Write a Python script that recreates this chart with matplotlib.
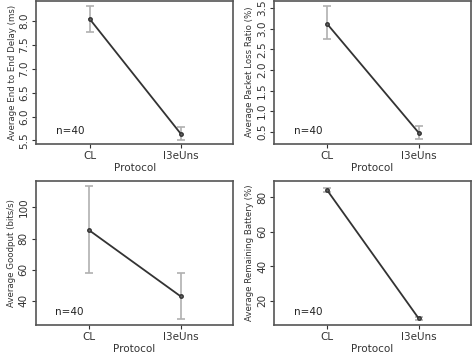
import matplotlib
matplotlib.use("Agg")
import matplotlib.pyplot as plt

protocols = ["CL", "I3eUns"]

delay_mean = [8.05, 5.63]
delay_lo = [7.78, 5.50]
delay_hi = [8.32, 5.77]

loss_mean = [3.12, 0.48]
loss_lo = [2.75, 0.33]
loss_hi = [3.55, 0.65]

goodput_mean = [85.5, 42.8]
goodput_lo = [57.6, 28.3]
goodput_hi = [113.5, 57.6]

battery_mean = [84.3, 9.9]
battery_lo = [83.3, 9.0]
battery_hi = [85.3, 10.8]

panels = [
    ("Average End to End Delay (ms)", delay_mean, delay_lo, delay_hi,
     (5.43, 8.43), [5.5, 6.0, 6.5, 7.0, 7.5, 8.0], "%.1f",
     [0.077, 0.593, 0.415, 0.405]),
    ("Average Packet Loss Ratio (%)", loss_mean, loss_lo, loss_hi,
     (0.21, 3.68), [0.5, 1.0, 1.5, 2.0, 2.5, 3.0, 3.5], "%.1f",
     [0.578, 0.593, 0.415, 0.405]),
    ("Average Goodput (bits/s)", goodput_mean, goodput_lo, goodput_hi,
     (24.6, 117.2), [40, 60, 80, 100], "%d",
     [0.075, 0.08, 0.417, 0.408]),
    ("Average Remaining Battery (%)", battery_mean, battery_lo, battery_hi,
     (6.1, 89.7), [20, 40, 60, 80], "%d",
     [0.578, 0.08, 0.415, 0.408]),
]

fig = plt.figure(figsize=(4.74, 3.53), dpi=100)
fig.patch.set_facecolor("white")

x = [1, 2]
for ylabel, mean, lo, hi, ylim, yticks, fmt, rect in panels:
    ax = fig.add_axes(rect)
    yerr = [[m - l for m, l in zip(mean, lo)], [h - m for m, h in zip(mean, hi)]]
    ax.errorbar(x, mean, yerr=yerr, fmt="none", ecolor="#b0b0b0",
                elinewidth=1.2, capsize=3, capthick=1.2, zorder=1)
    ax.plot(x, mean, color="#333333", lw=1.3, marker="o", ms=2.5,
            mfc="#666666", mec="#333333", zorder=2)
    ax.set_xlim(0.42, 2.57)
    ax.set_ylim(*ylim)
    ax.set_xticks(x)
    ax.set_xticklabels(protocols, fontsize=7.5)
    ax.set_yticks(yticks)
    ax.set_yticklabels([fmt % v for v in yticks], fontsize=7.5, rotation=90,
                       va="center")
    ax.set_xlabel("Protocol", fontsize=7.5, color="#333333", labelpad=2)
    ax.set_ylabel(ylabel, fontsize=6.2, color="#333333", labelpad=2)
    ax.tick_params(length=3, width=0.8, colors="#333333", pad=2)
    for s in ax.spines.values():
        s.set_color("#555555")
        s.set_linewidth(1.2)
    ax.text(0.1, 0.07, "n=40", transform=ax.transAxes, fontsize=7.5,
            color="#222222")

fig.savefig("out.png", dpi=100)
